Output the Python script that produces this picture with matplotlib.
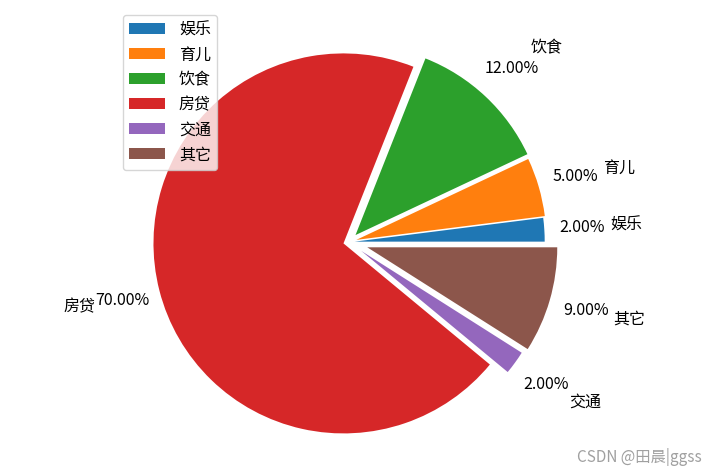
import matplotlib
matplotlib.use("Agg")
import matplotlib.pyplot as plt

plt.rcParams['font.family'] = ['Noto Sans CJK SC', 'DejaVu Sans']
plt.rcParams['font.size'] = 11.5

labels = ['娱乐', '育儿', '饮食', '房贷', '交通', '其它']
values = [2, 5, 12, 70, 2, 9]
explode = [0.03, 0.04, 0.05, 0.03, 0.08, 0.1]

fig = plt.figure(figsize=(7.17, 4.75), dpi=100)
ax = fig.add_axes([111.5 / 717, -4.5 / 475, 475 / 717, 1.0])

ax.pie(values, labels=labels, explode=explode, autopct='%.2f%%',
       pctdistance=1.2, labeldistance=1.35)
ax.axis('equal')
ax.set_xlim(-1.25, 1.25)
ax.set_ylim(-1.25, 1.25)

fig.legend(loc='upper left', bbox_to_anchor=(123 / 717, 1 - 15 / 475),
           borderaxespad=0, labelspacing=0.5, handlelength=2.2,
           handletextpad=0.9)

fig.text(702 / 717, 1 - 457 / 475, 'CSDN @田晨|ggss', ha='right', va='center',
         color='#a0a0a0', fontsize=11)

fig.savefig('out.png', dpi=100)
